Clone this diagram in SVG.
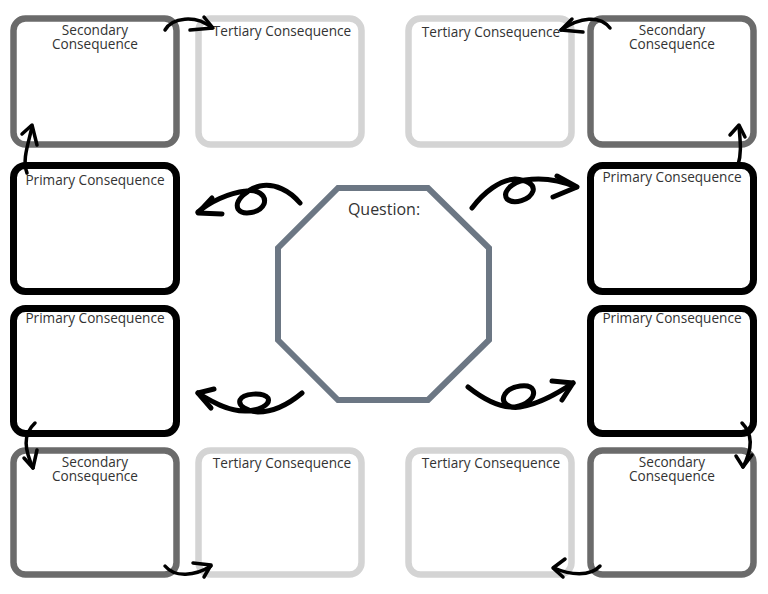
<svg xmlns="http://www.w3.org/2000/svg" width="768" height="594" viewBox="0 0 768 594">
<style>
.pri{fill:#fff;stroke:#000;stroke-width:7}
.sec{fill:#fff;stroke:#6b6b6b;stroke-width:6.5}
.ter{fill:#fff;stroke:#d4d4d4;stroke-width:6.5}
.oct{fill:#fff;stroke:#6c7784;stroke-width:6;stroke-linejoin:miter}
text{font-family:"Open Sans","Liberation Sans",sans-serif;fill:#333;font-size:13.6px;text-anchor:middle}
.q{font-size:16px}
.arr{fill:none;stroke:#000;stroke-linecap:round;stroke-linejoin:round}
.big{stroke-width:5}
.sm{stroke-width:3.5}
</style>
<rect width="768" height="594" fill="#fff"/>
<g id="sec-tl"><rect class="sec" x="13.5" y="18.5" width="163" height="126" rx="12"/><text x="95" y="34.5">Secondary</text><text x="95" y="49">Consequence</text></g>
<g id="ter-tl"><rect class="ter" x="198.5" y="18.5" width="163" height="126" rx="12"/><text x="282" y="36">Tertiary Consequence</text></g>
<g id="ter-tr"><rect class="ter" x="408.5" y="18.5" width="163" height="126" rx="12"/><text x="491" y="37">Tertiary Consequence</text></g>
<g id="sec-tr"><rect class="sec" x="590.5" y="18.5" width="163" height="126" rx="12"/><text x="672" y="34.5">Secondary</text><text x="672" y="49">Consequence</text></g>
<g id="pri-ul"><rect class="pri" x="13.5" y="165.5" width="163" height="126" rx="12"/><text x="95" y="185">Primary Consequence</text></g>
<g id="pri-ur"><rect class="pri" x="590.5" y="165.5" width="163" height="126" rx="12"/><text x="672" y="182">Primary Consequence</text></g>
<g id="pri-ll"><rect class="pri" x="13.5" y="308.5" width="163" height="125" rx="12"/><text x="95" y="323">Primary Consequence</text></g>
<g id="pri-lr"><rect class="pri" x="590.5" y="308.5" width="163" height="125" rx="12"/><text x="672" y="323">Primary Consequence</text></g>
<g id="sec-bl"><rect class="sec" x="13.5" y="450.5" width="163" height="124" rx="12"/><text x="95" y="466.5">Secondary</text><text x="95" y="481">Consequence</text></g>
<g id="ter-bl"><rect class="ter" x="198.5" y="450.5" width="163" height="124" rx="12"/><text x="282" y="468">Tertiary Consequence</text></g>
<g id="ter-br"><rect class="ter" x="408.5" y="450.5" width="163" height="124" rx="12"/><text x="491" y="468">Tertiary Consequence</text></g>
<g id="sec-br"><rect class="sec" x="590.5" y="450.5" width="163" height="124" rx="12"/><text x="672" y="466.5">Secondary</text><text x="672" y="481">Consequence</text></g>
<g id="question"><polygon class="oct" points="338,188 428,188 489,248 489,340 428,400 338,400 278,340 278,248"/><text class="q" x="384" y="215">Question:</text></g>
<g id="connectors">
<path class="arr big" d="M300,203 C290,191 275,183 260,186 C248,189 234,200 238,209 C243,216 260,213 264,204 C267,195 257,189 246,191 C228,193 210,202 198,212"/>
<path class="arr big" d="M212,198 L198,213 L222,214"/>
<path class="arr big" d="M472,208 C484,192 500,180 515,179 C526,180 535,184 533,191 C530,200 514,205 507,199 C502,192 512,182 525,180 C545,177 562,181 576,187"/>
<path class="arr big" d="M557,176 L577,187 L553,197"/>
<path class="arr big" d="M302,393 C290,403 275,412 258,412 C247,411 238,406 240,400 C243,393 263,392 268,398 C271,405 258,411 245,411 C228,411 212,402 198,393"/>
<path class="arr big" d="M214,389 L198,393 L211,408"/>
<path class="arr big" d="M468,387 C482,398 500,408 515,407 C527,405 536,397 533,390 C530,383 511,385 505,394 C500,402 508,409 520,407 C540,404 558,393 573,383"/>
<path class="arr big" d="M552,381 L573,383 L562,400"/>
<path class="arr sm" d="M165,30 C172,18 195,14 212,28"/>
<path class="arr sm" d="M204,17 L213,28 L190,30"/>
<path class="arr sm" d="M27,173 C22,160 28,145 32,127"/>
<path class="arr sm" d="M22,134 L32,125 L37,145"/>
<path class="arr sm" d="M610,28 C600,15 580,17 561,30"/>
<path class="arr sm" d="M572,19 L561,30 L583,32"/>
<path class="arr sm" d="M738,165 C742,152 740,140 739,126"/>
<path class="arr sm" d="M730,135 L739,125 L745,137"/>
<path class="arr sm" d="M35,423 C22,435 25,450 33,468"/>
<path class="arr sm" d="M24,458 L33,468 L37,450"/>
<path class="arr sm" d="M165,566 C175,578 195,576 211,566"/>
<path class="arr sm" d="M193,563 L211,565 L204,577"/>
<path class="arr sm" d="M742,423 C754,435 752,450 743,467"/>
<path class="arr sm" d="M736,456 L743,467 L752,455"/>
<path class="arr sm" d="M600,566 C590,577 570,575 554,568"/>
<path class="arr sm" d="M565,559 L553,568 L563,577"/>
</g>
</svg>
